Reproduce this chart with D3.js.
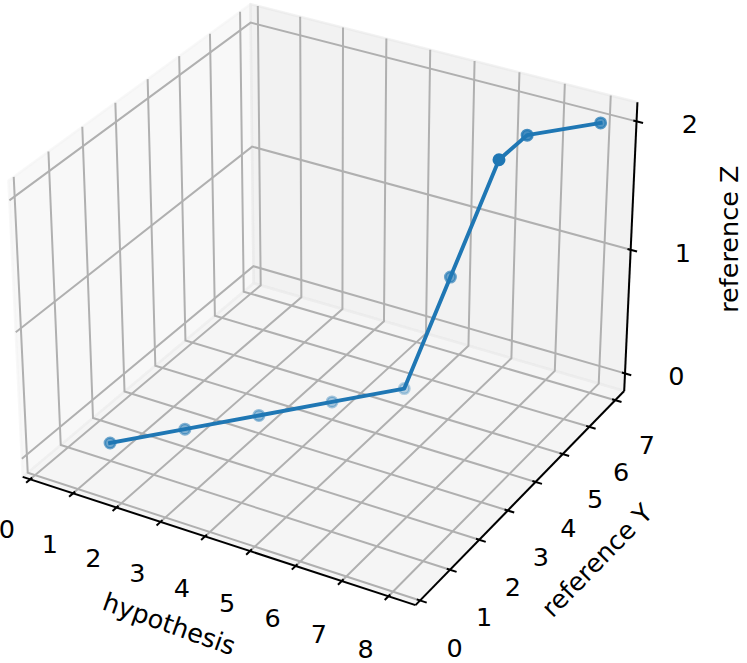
<!DOCTYPE html>
<html>
<head>
<meta charset="utf-8">
<script src="https://cdn.jsdelivr.net/npm/d3@7"></script>
<style>
  body { margin: 0; background: #fff; }
  svg { display: block; }
  text { font-family: "DejaVu Sans", sans-serif; fill: #000; }
</style>
</head>
<body>
<svg width="747" height="663"></svg>
<script>
// data: alignment path
const hypothesis = [1, 2, 3, 4, 5, 6, 7, 7, 8]
const referenceY = [1, 2, 3, 4, 5, 5, 5, 6, 7]
const referenceZ = [0, 0, 0, 0, 0, 1, 2, 2, 2]

// axes
const xTicks = [0, 1, 2, 3, 4, 5, 6, 7, 8]
const yTicks = [0, 1, 2, 3, 4, 5, 6, 7]
const zTicks = [0, 1, 2]
const xDomain = [0, 8.4]
const yDomain = [0, 7.2]
const zDomain = [-0.1, 2.1]

const svg = d3.select('svg')
const blue = '#1f77b4'
const fontSize = 25.5

// view (elev 30, azim -60, perspective, dist 10)
const elev = 30 * Math.PI / 180
const azim = -60 * Math.PI / 180
const dist = 10
const box = [4, 4, 3].map(v => v / 3.5)
const R = box.map(v => v / 2)
const dir = [Math.cos(elev) * Math.cos(azim), Math.cos(elev) * Math.sin(azim), Math.sin(elev)]
const eye = R.map((r, i) => r + dist * dir[i])

const sub = (a, b) => a.map((v, i) => v - b[i])
const dot = (a, b) => a[0] * b[0] + a[1] * b[1] + a[2] * b[2]
const cross = (a, b) => [a[1] * b[2] - a[2] * b[1], a[2] * b[0] - a[0] * b[2], a[0] * b[1] - a[1] * b[0]]
const unit = a => { const l = Math.sqrt(dot(a, a)); return a.map(v => v / l) }

const wv = unit(sub(eye, R))
const uv = unit(cross([0, 0, 1], wv))
const vv = cross(wv, uv)

// projected plane -> pixels
const sx = d3.scaleLinear().domain([0, 1]).range([329, 329 + 3780])
const sy = d3.scaleLinear().domain([0, 1]).range([290.2, 290.2 - 3780])

function project(p) {
    const d = sub(p, eye)
    const w = -dot(wv, d)
    return { x: sx(dot(uv, d) / w), y: sy(dot(vv, d) / w), vz: -dist / w }
}

const xScale = d3.scaleLinear().domain(xDomain).range([0, box[0]])
const yScale = d3.scaleLinear().domain(yDomain).range([0, box[1]])
const zScale = d3.scaleLinear().domain(zDomain).range([0, box[2]])

// padded box bounds
const lo = box.map(v => -v / 48)
const hi = box.map(v => v * 49 / 48)
const [a0, b0, c0] = lo
const [a1, b1, c1] = hi

const line = d3.line().x(d => d.x).y(d => d.y)
const poly = pts => line(pts.map(project)) + 'Z'
const path = pts => line(pts.map(project))

// panes
const panes = [
    { pts: [[a0, b0, c0], [a0, b1, c0], [a0, b1, c1], [a0, b0, c1]], c: 'rgba(242,242,242,0.5)' },
    { pts: [[a0, b1, c0], [a1, b1, c0], [a1, b1, c1], [a0, b1, c1]], c: 'rgba(230,230,230,0.5)' },
    { pts: [[a0, b0, c0], [a1, b0, c0], [a1, b1, c0], [a0, b1, c0]], c: 'rgba(236,236,236,0.5)' }
]
svg.append('g').selectAll('path').data(panes).join('path')
    .attr('d', d => poly(d.pts))
    .attr('fill', d => d.c)
    .attr('stroke', d => d.c)
    .attr('stroke-width', 2.5)
    .attr('stroke-linejoin', 'round')

// grid
const grid = svg.append('g')
    .attr('fill', 'none')
    .attr('stroke', '#b0b0b0')
    .attr('stroke-width', 2)
grid.selectAll('.gx').data(xTicks).join('path')
    .attr('d', t => { const a = xScale(t); return path([[a, b0, c0], [a, b1, c0], [a, b1, c1]]) })
grid.selectAll('.gy').data(yTicks).join('path')
    .attr('d', t => { const b = yScale(t); return path([[a1, b, c0], [a0, b, c0], [a0, b, c1]]) })
grid.selectAll('.gz').data(zTicks).join('path')
    .attr('d', t => { const c = zScale(t); return path([[a0, b0, c], [a0, b1, c], [a1, b1, c]]) })

// axis lines and ticks
const axes = svg.append('g').attr('fill', 'none').attr('stroke', '#000').attr('stroke-width', 2)
axes.append('path').attr('d', path([[a0, b0, c0], [a1, b0, c0]]))
axes.append('path').attr('d', path([[a1, b0, c0], [a1, b1, c0]]))
axes.append('path').attr('d', path([[a1, b1, c0], [a1, b1, c1]]))

const tOut = 0.2, tIn = 0.1
axes.selectAll('.tx').data(xTicks).join('path')
    .attr('d', t => { const a = xScale(t), dl = box[1] / 12; return path([[a, b0 - tOut * dl, c0], [a, b0 + tIn * dl, c0]]) })
axes.selectAll('.ty').data(yTicks).join('path')
    .attr('d', t => { const b = yScale(t), dl = box[0] / 12; return path([[a1 + tOut * dl, b, c0], [a1 - tIn * dl, b, c0]]) })
axes.selectAll('.tz').data(zTicks).join('path')
    .attr('d', t => { const c = zScale(t), dl = box[0] / 12; return path([[a1 + tOut * dl, b1, c], [a1 - tIn * dl, b1, c]]) })

// tick labels
const labels = svg.append('g')
    .attr('font-size', fontSize)
    .attr('text-anchor', 'middle')
    .attr('dominant-baseline', 'central')
function tickLabels(ticks, pos) {
    labels.selectAll(null).data(ticks).join('text')
        .each(function (t) {
            const p = project(pos(t))
            d3.select(this).attr('x', p.x).attr('y', p.y).text(t)
        })
}
tickLabels(xTicks, t => [xScale(t), b0 - 0.116, c0 - 0.092])
tickLabels(yTicks, t => [a1 + 0.101, yScale(t), c0 - 0.112])
tickLabels(zTicks, t => [a1 + 0.129, b1 + 0.056, zScale(t)])

// axis titles, rotated along their axis
function axisTitle(text, at, ang) {
    const p = project(at)
    labels.append('text')
        .attr('transform', `translate(${p.x},${p.y}) rotate(${ang})`)
        .text(text)
}
function axisAngle(from, to) {
    const q0 = project(from), q1 = project(to)
    return Math.atan2(q1.y - q0.y, q1.x - q0.x) * 180 / Math.PI
}
const am = (a0 + a1) / 2, bm = (b0 + b1) / 2, cm = (c0 + c1) / 2
axisTitle('hypothesis', [am, b0 - 0.222, c0 - 0.131], axisAngle([a0, b0, c0], [a1, b0, c0]) + 1.5)
axisTitle('reference Y', [a1 + 0.218, bm, c0 - 0.139], axisAngle([a1, b0, c0], [a1, b1, c0]))
axisTitle('reference Z', [a1 + 0.205, b1 + 0.186, cm], -90)

// data
const pts = hypothesis.map((h, i) => project([xScale(h), yScale(referenceY[i]), zScale(referenceZ[i])]))
const vzExt = d3.extent(pts, d => d.vz)
const shade = d3.scaleLinear().domain(vzExt).range([1, 0.3])

svg.append('g').selectAll('circle')
    .data(pts.slice().sort((p, q) => q.vz - p.vz))
    .join('circle')
    .attr('cx', d => d.x)
    .attr('cy', d => d.y)
    .attr('r', 5.2)
    .attr('fill', blue)
    .attr('stroke', blue)
    .attr('stroke-width', 2.6)
    .attr('fill-opacity', d => shade(d.vz))
    .attr('stroke-opacity', d => shade(d.vz))

svg.append('path')
    .attr('d', line(pts))
    .attr('fill', 'none')
    .attr('stroke', blue)
    .attr('stroke-width', 3.9)
    .attr('stroke-linejoin', 'round')
    .attr('stroke-linecap', 'square')
</script>
</body>
</html>
